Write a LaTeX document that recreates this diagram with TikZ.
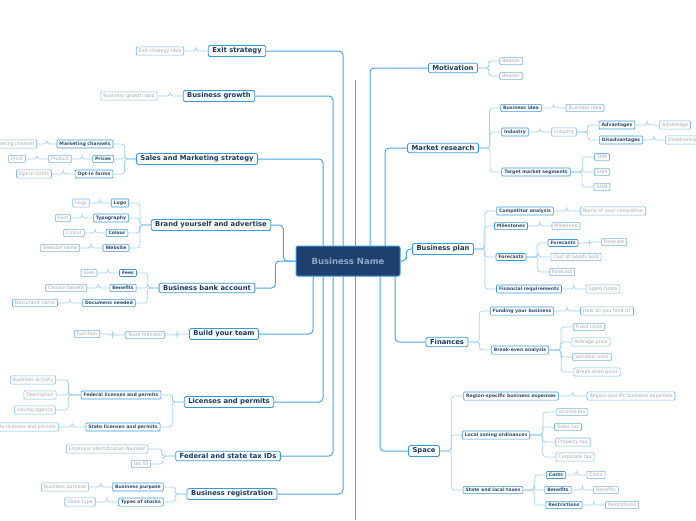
\documentclass[tikz,border=0pt]{standalone}
\usepackage{fontspec}
\setmainfont{DejaVu Sans}
\usetikzlibrary{calc}
\definecolor{bd}{HTML}{3A9AD9}
\definecolor{ln}{HTML}{4BA6E6}
\definecolor{lnl}{HTML}{9FD2F2}
\definecolor{tx1}{HTML}{1A3A5C}
\definecolor{tx2}{HTML}{2C4A6B}
\definecolor{tx3}{HTML}{A8A8A8}
\definecolor{cen}{HTML}{1F3F6E}
\definecolor{ctx}{HTML}{8FA8C8}
\begin{document}
\begin{tikzpicture}[x=1pt,y=-1pt,
  mainbox/.style={draw=bd,fill=white,rounded corners=1.5pt,line width=0.8pt,font=\fontsize{6.8}{7.5}\selectfont\bfseries,text=tx1,inner xsep=4pt,inner ysep=2.2pt},
  subbox/.style={draw=bd,fill=white,rounded corners=1pt,line width=0.6pt,font=\fontsize{4.6}{5}\selectfont\bfseries,text=tx2,inner xsep=2.5pt,inner ysep=1.8pt},
  leafbox/.style={draw=bd!70,fill=white,rounded corners=1pt,line width=0.6pt,font=\fontsize{4.8}{5}\selectfont,text=tx3,inner xsep=2.5pt,inner ysep=1.8pt},
  mc/.style={draw=ln,line width=1pt,rounded corners=4pt},
  sc/.style={draw=lnl,line width=0.7pt,rounded corners=3pt}]
\useasboundingbox (0,0) rectangle (696,520);
% ---------- nodes ----------
\node[draw=bd,fill=cen,line width=1pt,rounded corners=2pt,minimum width=104pt,minimum height=30pt,text=ctx,font=\fontsize{8.5}{9}\selectfont\bfseries] (C) at (348,261) {Business Name};
% left main
\node[mainbox] (L1) at (237,51) {Exit strategy};
\node[mainbox] (L2) at (219,96) {Business growth};
\node[mainbox] (L3) at (197,159) {Sales and Marketing strategy};
\node[mainbox] (L4) at (211,225) {Brand yourself and advertise};
\node[mainbox] (L5) at (207,288) {Business bank account};
\node[mainbox] (L6) at (224,334) {Build your team};
\node[mainbox] (L7) at (229,402) {Licenses and permits};
\node[mainbox] (L8) at (228,456) {Federal and state tax IDs};
\node[mainbox] (L9) at (232,494) {Business registration};
% left subs
\node[leafbox] (a1) at (160,51) {Exit strategy idea};
\node[leafbox] (a2) at (129,96) {Business growth idea};
\node[subbox] (s31) at (85,144) {Marketing channels};
\node[leafbox] (a31) at (12,144) {Marketing channel};
\node[subbox] (s32) at (103,159) {Prices};
\node[leafbox] (b32) at (60,159) {Product};
\node[leafbox] (a32) at (17,159) {Price};
\node[subbox] (s33) at (94,174) {Opt-in forms};
\node[leafbox] (a33) at (34,174) {Opt-in forms};
\node[subbox] (s41) at (120,203) {Logo};
\node[leafbox] (a41) at (81,203) {Logo};
\node[subbox] (s42) at (111,218) {Typography};
\node[leafbox] (a42) at (63,218) {Font};
\node[subbox] (s43) at (117,233) {Colour};
\node[leafbox] (a43) at (74,233) {Colour};
\node[subbox] (s44) at (116,248) {Website};
\node[leafbox] (a44) at (60,248) {Website name};
\node[subbox] (s51) at (128,273) {Fees};
\node[leafbox] (a51) at (89,273) {Fees};
\node[subbox] (s52) at (123,288) {Benefits};
\node[leafbox] (a52) at (66,288) {Choose benefit};
\node[subbox] (s53) at (109,303) {Documens needed};
\node[leafbox] (a53) at (35,303) {Document name};
\node[leafbox] (s61) at (145,335) {Team member};
\node[leafbox] (a61) at (87,334) {Function};
\node[subbox] (s71) at (121,395) {Federal licenses and permits};
\node[leafbox] (a711) at (33,380) {Business activity};
\node[leafbox] (a712) at (40,395) {Description};
\node[leafbox] (a713) at (35,410) {Issuing agency};
\node[subbox] (s72) at (123,427) {State licenses and permits};
\node[leafbox] (a72) at (24,427) {State licenses and permits};
\node[leafbox] (a81) at (107,449) {Employer Identification Number};
\node[leafbox] (a82) at (141,464) {tax ID};
\node[subbox] (s91) at (138,487) {Business purpose};
\node[leafbox] (a91) at (65,487) {Business purpose};
\node[subbox] (s92) at (141,502) {Types of stocks};
\node[leafbox] (a92) at (80,502) {Stock type};
% right main
\node[mainbox] (R1) at (453,68) {Motivation};
\node[mainbox] (R2) at (443,148) {Market research};
\node[mainbox] (R3) at (443,249) {Business plan};
\node[mainbox] (R4) at (447,342) {Finances};
\node[mainbox] (R5) at (424,451) {Space};
% right subs
\node[leafbox] (m1) at (511,61) {Reason};
\node[leafbox] (m2) at (511,76) {Reason};
\node[subbox] (r21) at (521,108) {Business idea};
\node[leafbox] (r21a) at (585,108) {Business idea};
\node[subbox] (r22) at (515,132) {Industry};
\node[leafbox] (r22a) at (564,132) {Industry};
\node[subbox] (r22b) at (617,125) {Advantages};
\node[leafbox] (r22c) at (675,125) {Advantage};
\node[subbox] (r22d) at (621,140) {Disadvantages};
\node[leafbox,anchor=west] (r22e) at (665,140) {Disadvantage};
\node[subbox] (r23) at (536,172) {Target market segments};
\node[leafbox] (t1) at (602,157) {TAM};
\node[leafbox] (t2) at (602,172) {SAM};
\node[leafbox] (t3) at (602,187) {SOM};
\node[subbox] (r31) at (525,211) {Competitor analysis};
\node[leafbox] (r31a) at (613,211) {Name of your competitor};
\node[subbox] (r32) at (511,226) {Milestones};
\node[leafbox] (r32a) at (566,226) {Milestone};
\node[subbox] (r33) at (511,257) {Forecasts};
\node[subbox] (r33a) at (563,243) {Forecasts};
\node[leafbox] (r33b) at (614,242) {Forecast};
\node[leafbox] (r33c) at (576,257) {Cost of Goods Sold};
\node[leafbox] (r33d) at (562,272) {Forecast};
\node[subbox] (r34) at (529,289) {Financial requirements};
\node[leafbox] (r34a) at (603,289) {Spent funds};
\node[subbox] (r41) at (522,311) {Funding your business};
\node[leafbox] (r41a) at (607,311) {How do you fund it?};
\node[subbox] (r42) at (520,350) {Break-even analysis};
\node[leafbox] (f1) at (589,327) {Fixed costs};
\node[leafbox] (f2) at (591,342) {Average price};
\node[leafbox] (f3) at (592,357) {Variable costs};
\node[leafbox] (f4) at (597,372) {Break-even point};
\node[subbox] (r51) at (511,396) {Region-specific business expenses};
\node[leafbox] (r51a) at (631,396) {Region-specific business expenses};
\node[subbox] (r52) at (496,435) {Local zoning ordinances};
\node[leafbox] (z1) at (572,412) {Income tax};
\node[leafbox] (z2) at (568,427) {Sales tax};
\node[leafbox] (z3) at (573,442) {Property tax};
\node[leafbox] (z4) at (575,457) {Corporate tax};
\node[subbox] (r53) at (493,490) {State and local taxes};
\node[subbox] (g1) at (556,475) {Costs};
\node[leafbox] (g1a) at (596,475) {Costs};
\node[subbox] (g2) at (558,490) {Benefits};
\node[leafbox] (g2a) at (606,490) {Benefits};
\node[subbox] (g3) at (564,505) {Restrictions};
\node[leafbox] (g3a) at (622,505) {Restrictions};
% ---------- connectors (behind) ----------
\newcommand{\LE}[3][sc]{\draw[#1] (#2.west) -| ($(#2.west)!.5!(#3.east)$) |- (#3.east);}
\newcommand{\RE}[3][sc]{\draw[#1] (#2.east) -| ($(#2.east)!.5!(#3.west)$) |- (#3.west);}
\pgfdeclarelayer{bg}\pgfsetlayers{bg,main}
\begin{pgfonlayer}{bg}
% central left
\draw[mc] (343,261) |- (L1.east);
\draw[mc] (333,261) |- (L2.east);
\draw[mc] (323,261) |- (L3.east);
\LE[mc]{C}{L4}
\LE[mc]{C}{L5}
\draw[mc] (313,261) |- (L6.east);
\draw[mc] (323,261) |- (L7.east);
\draw[mc] (333,261) |- (L8.east);
\draw[mc] (343,261) |- (L9.east);
\draw[mc] (355,80) -- (355,520);
% central right
\draw[mc] (370,261) |- (R1.west);
\draw[mc] (385,261) |- (R2.west);
\RE[mc]{C}{R3}
\draw[mc] (395,261) |- (R4.west);
\draw[mc] (380,261) |- (R5.west);
% left
\LE{L1}{a1} \LE{L2}{a2}
\LE{L3}{s31} \LE{L3}{s32} \LE{L3}{s33}
\LE{s31}{a31} \LE{s32}{b32} \LE{b32}{a32} \LE{s33}{a33}
\LE{L4}{s41} \LE{L4}{s42} \LE{L4}{s43} \LE{L4}{s44}
\LE{s41}{a41} \LE{s42}{a42} \LE{s43}{a43} \LE{s44}{a44}
\LE{L5}{s51} \LE{L5}{s52} \LE{L5}{s53}
\LE{s51}{a51} \LE{s52}{a52} \LE{s53}{a53}
\LE{L6}{s61} \LE{s61}{a61}
\LE{L7}{s71} \LE{L7}{s72}
\LE{s71}{a711} \LE{s71}{a712} \LE{s71}{a713} \LE{s72}{a72}
\LE{L8}{a81} \LE{L8}{a82}
\LE{L9}{s91} \LE{L9}{s92} \LE{s91}{a91} \LE{s92}{a92}
% right
\RE{R1}{m1} \RE{R1}{m2}
\RE{R2}{r21} \RE{R2}{r22} \RE{R2}{r23}
\RE{r21}{r21a} \RE{r22}{r22a} \RE{r22a}{r22b} \RE{r22a}{r22d}
\RE{r22b}{r22c} \RE{r22d}{r22e}
\RE{r23}{t1} \RE{r23}{t2} \RE{r23}{t3}
\RE{R3}{r31} \RE{R3}{r32} \RE{R3}{r33} \RE{R3}{r34}
\RE{r31}{r31a} \RE{r32}{r32a} \RE{r33}{r33a} \RE{r33}{r33c} \RE{r33}{r33d}
\RE{r33a}{r33b} \RE{r34}{r34a}
\RE{R4}{r41} \RE{R4}{r42} \RE{r41}{r41a}
\RE{r42}{f1} \RE{r42}{f2} \RE{r42}{f3} \RE{r42}{f4}
\RE{R5}{r51} \RE{R5}{r52} \RE{R5}{r53} \RE{r51}{r51a}
\RE{r52}{z1} \RE{r52}{z2} \RE{r52}{z3} \RE{r52}{z4}
\RE{r53}{g1} \RE{r53}{g2} \RE{r53}{g3}
\RE{g1}{g1a} \RE{g2}{g2a} \RE{g3}{g3a}
\end{pgfonlayer}
\end{tikzpicture}
\end{document}
